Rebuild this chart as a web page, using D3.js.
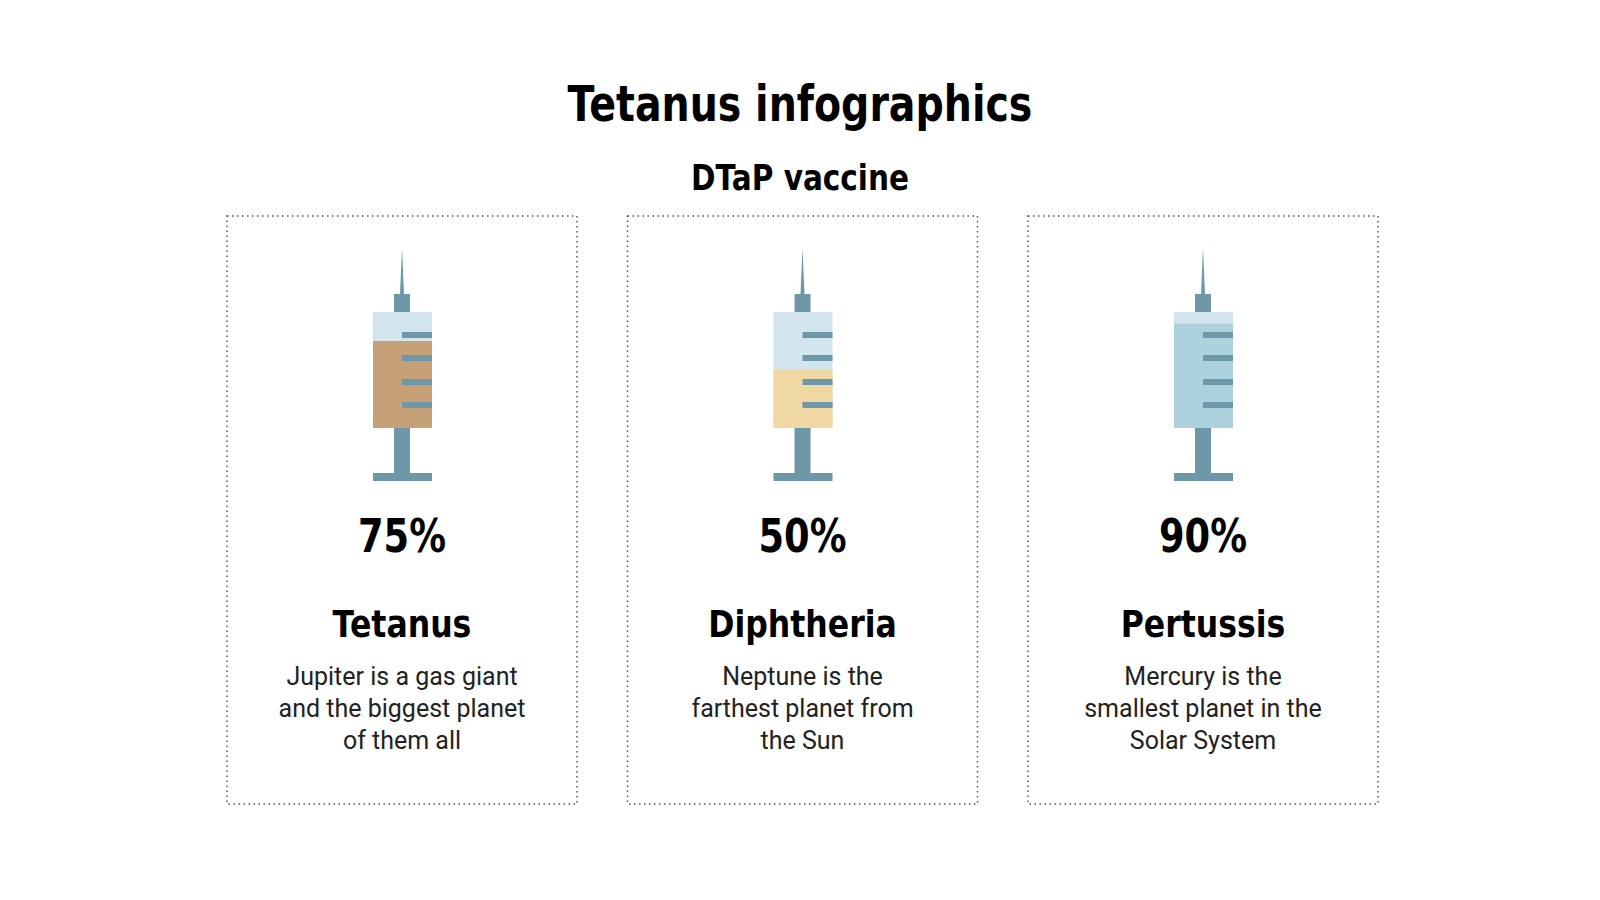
<!DOCTYPE html>
<html><head><meta charset="utf-8">
<script src="https://cdn.jsdelivr.net/npm/d3@7"></script>
<style>body{margin:0;background:#fff}</style>
</head><body>
<svg id="c" width="1600" height="900"></svg>
<script>
var names = ["Tetanus", "Diphtheria", "Pertussis"];
var values = [75, 50, 90];
var fills = ["#c6a178", "#efd8a3", "#aed2dd"];
var descs = [
    ["Jupiter is a gas giant", "and the biggest planet", "of them all"],
    ["Neptune is the", "farthest planet from", "the Sun"],
    ["Mercury is the", "smallest planet in the", "Solar System"]
];

var svg = d3.select("#c");
var cond = "'DejaVu Sans',sans-serif";
var dark = "#6e97a8";

// squeeze a bold heading horizontally, the fonts here have no condensed cut
function squeeze(sel, f) {
    sel.each(function () {
        var w = this.getComputedTextLength();
        d3.select(this).attr("textLength", w * f).attr("lengthAdjust", "spacingAndGlyphs");
    });
}

svg.append("text").attr("x", 800).attr("y", 121).attr("text-anchor", "middle")
    .style("font-family", cond).style("font-weight", "bold").style("font-size", "50px")
    .text("Tetanus infographics").call(squeeze, 0.79);
svg.append("text").attr("x", 800).attr("y", 190).attr("text-anchor", "middle")
    .style("font-family", cond).style("font-weight", "bold").style("font-size", "36px")
    .text("DTaP vaccine").call(squeeze, 0.82);

var x = d3.scalePoint().domain(names).range([402, 1203]);
// fill level inside the barrel
var y = d3.scaleLinear().domain([0, 100]).range([428, 312]);

var g = svg.selectAll("g.card").data(names).enter().append("g")
    .attr("class", "card")
    .attr("transform", function (d) { return "translate(" + x(d) + ",0)"; });

g.append("rect").attr("x", -175).attr("y", 216).attr("width", 350).attr("height", 588)
    .attr("fill", "none").attr("stroke", "#555").attr("stroke-width", 1.5)
    .attr("stroke-dasharray", "1.5,3.5");

// syringe
g.append("path").attr("d", "M-2,294 L0,248 L2,294 Z").attr("fill", dark);
g.append("rect").attr("x", -8).attr("y", 294).attr("width", 16).attr("height", 18).attr("fill", dark);
g.append("rect").attr("x", -29).attr("y", 312).attr("width", 59).attr("height", 116).attr("fill", "#d3e5ec");
g.append("rect").attr("x", -29).attr("width", 59)
    .attr("y", function (d, i) { return y(values[i]); })
    .attr("height", function (d, i) { return 428 - y(values[i]); })
    .attr("fill", function (d, i) { return fills[i]; });
[335, 358, 382, 405].forEach(function (ty) {
    g.append("rect").attr("x", 0).attr("y", ty - 3).attr("width", 30).attr("height", 6).attr("fill", dark);
});
g.append("rect").attr("x", -8).attr("y", 428).attr("width", 16).attr("height", 45).attr("fill", dark);
g.append("rect").attr("x", -29).attr("y", 473).attr("width", 59).attr("height", 8).attr("fill", dark);

g.append("text").attr("y", 552).attr("text-anchor", "middle")
    .style("font-family", cond).style("font-weight", "bold").style("font-size", "46px")
    .text(function (d, i) { return values[i] + "%"; }).call(squeeze, 0.8);
g.append("text").attr("y", 637).attr("text-anchor", "middle")
    .style("font-family", cond).style("font-weight", "bold").style("font-size", "38px")
    .text(function (d) { return d; }).call(squeeze, 0.83);
g.each(function (d, i) {
    var t = d3.select(this).append("text").attr("text-anchor", "middle")
        .style("font-family", "Roboto,sans-serif").style("font-size", "25px").attr("fill", "#222");
    descs[i].forEach(function (line, k) {
        t.append("tspan").attr("x", 0).attr("y", 685 + k * 32).text(line);
    });
});
</script>
</body></html>
